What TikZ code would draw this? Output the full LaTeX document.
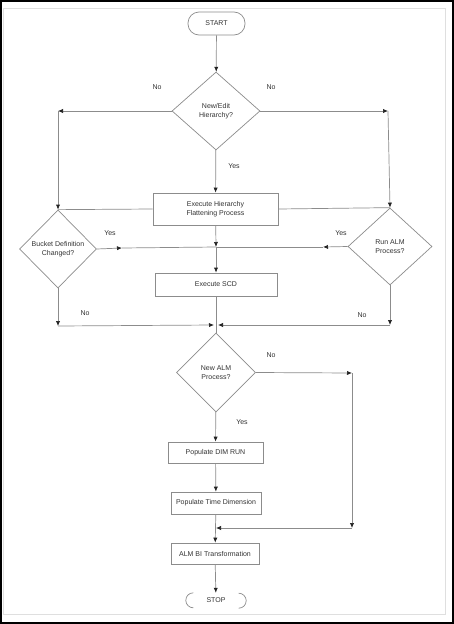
\documentclass[tikz,border=0pt]{standalone}
\usepackage{fontspec}
\setmainfont{Liberation Sans}
\usetikzlibrary{shapes.geometric,arrows.meta}
\definecolor{lineg}{HTML}{8C8C8C}
\definecolor{textg}{HTML}{333333}
\definecolor{tipg}{HTML}{222222}
\tikzset{
	txt/.style={text=textg, font=\fontsize{7}{8.7}\selectfont, align=center},
	plain/.style={draw=lineg, line width=0.7pt},
	flow/.style={plain, -{Latex[length=5pt,width=4.2pt,color=tipg]}},
	process/.style={txt, plain, rectangle, inner sep=0pt},
	decision/.style={txt, plain, diamond, inner sep=0pt},
	terminal/.style={txt, plain, rectangle, rounded corners=11pt, inner sep=0pt},
	lbl/.style={txt}
}
\begin{document}
\begin{tikzpicture}[x=1pt,y=-1pt]
	\useasboundingbox (0,0) rectangle (454,624);
	\fill[white] (0,0) rectangle (454,624);
	\draw[gray!25, line width=0.8pt] (3,8) rectangle (445,614);
	\draw[black, line width=2.4pt] (1.2,1.2) rectangle (452.8,622.8);

	\node[terminal, minimum width=57pt, minimum height=23pt] (start) at (216.5,23.5) {START};
	\node[decision, minimum width=88pt, minimum height=78pt] (hier) at (216,111) {New/Edit\\Hierarchy?};
	\node[process, minimum width=125pt, minimum height=32pt] (flatten) at (215.5,209) {Execute Hierarchy\\Flattening Process};
	\node[decision, minimum width=77pt, minimum height=78pt] (bucket) at (58,249) {Bucket Definition\\Changed?};
	\node[decision, minimum width=84pt, minimum height=77pt] (runalm) at (390,246.5) {Run ALM\\Process?};
	\node[process, minimum width=122pt, minimum height=23pt] (scd) at (216,284.5) {Execute SCD};
	\node[decision, minimum width=79pt, minimum height=79pt] (newalm) at (216,372.5) {New ALM\\Process?};
	\node[process, minimum width=95pt, minimum height=21pt] (dimrun) at (215.5,452.5) {Populate DIM RUN};
	\node[process, minimum width=90pt, minimum height=22pt] (timedim) at (216,503) {Populate Time Dimension};
	\node[process, minimum width=88pt, minimum height=21pt] (albi) at (215,553.5) {ALM BI Transformation};
	\node[txt, minimum width=60pt, minimum height=15pt, inner sep=0pt] (stop) at (216,600.5) {STOP};

	\coordinate (nl) at (58,111);
	\coordinate (nr) at (388,111);
	\coordinate (j1) at (216,247);
	\coordinate (ya) at (122,248);
	\coordinate (yb) at (323,247);
	\coordinate (nb) at (58,326);
	\coordinate (nc) at (390,325);
	\coordinate (j2) at (216,325);
	\coordinate (nd) at (352,373);
	\coordinate (ne) at (352,528);
	\coordinate (j3) at (216,528);

	\node[lbl] (no1) at (157,87) {No};
	\node[lbl] (no2) at (271,87) {No};
	\node[lbl] (yes1) at (234,166) {Yes};
	\node[lbl] (yes2) at (110,233) {Yes};
	\node[lbl] (yes3) at (341,233) {Yes};
	\node[lbl] (no3) at (85,313) {No};
	\node[lbl] (no4) at (362,315) {No};
	\node[lbl] (no5) at (271,355) {No};
	\node[lbl] (yes4) at (242,422) {Yes};

	\draw[flow] (start) -- (hier);
	\draw[flow] (hier.west) -- (nl);
	\draw[flow] (nl) -- (bucket.north);
	\draw[flow] (hier.east) -- (nr);
	\draw[flow] (nr) -- (runalm.north);
	\draw[flow] (hier) -- (flatten);
	\draw[plain] (flatten.west) -- (bucket.north);
	\draw[plain] (flatten.east) -- (runalm.north);
	\draw[flow] (flatten) -- (j1);
	\draw[flow] (j1) -- (scd);
	\draw[flow] (bucket.east) -- (ya);
	\draw[plain] (ya) -- (j1);
	\draw[flow] (runalm.west) -- (yb);
	\draw[plain] (yb) -- (j1);
	\draw[plain] (scd) -- (newalm.north);
	\draw[flow] (bucket.south) -- (nb);
	\draw[flow] (nb) -- ([xshift=-2pt]j2);
	\draw[flow] (runalm.south) -- (nc);
	\draw[flow] (nc) -- ([xshift=2pt]j2);
	\draw[flow] (newalm.east) -- (nd);
	\draw[flow] (nd) -- (ne);
	\draw[flow] (ne) -- (j3);
	\draw[flow] (newalm) -- (dimrun);
	\draw[flow] (dimrun) -- (timedim);
	\draw[flow] (timedim) -- (albi);
	\draw[flow] (albi) -- (stop);
	\draw[plain] ([xshift=7.5pt]stop.north west) arc[start angle=90, end angle=270, radius=7.5pt];
	\draw[plain] ([xshift=-7.5pt]stop.south east) arc[start angle=-90, end angle=90, radius=7.5pt];
\end{tikzpicture}
\end{document}
